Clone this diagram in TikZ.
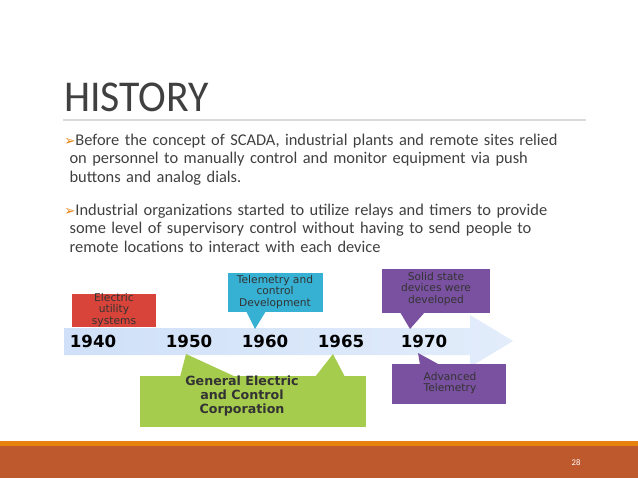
\documentclass[tikz,border=0pt]{standalone}
\usepackage{fontspec}
\setmainfont{Carlito}
\newfontfamily\tl{DejaVu Sans}
\definecolor{brick}{HTML}{BE582D}
\definecolor{orng}{HTML}{E8820E}
\definecolor{txt}{HTML}{404040}
\definecolor{red1}{HTML}{D9443A}
\definecolor{teal1}{HTML}{36B0D3}
\definecolor{purp}{HTML}{7A51A0}
\definecolor{grn}{HTML}{A6CC4E}
\definecolor{arr}{HTML}{CFE0F8}
\newcommand{\bmark}{\textcolor{orng}{{\tl\fontsize{10}{10}\selectfont ➢}}}
\tikzset{
 lbl/.style={font=\tl\fontsize{8}{8.5}\selectfont, align=center, text=black!80},
 yr/.style={font=\tl\bfseries\fontsize{12.5}{12.5}\selectfont, text=black},
 bul/.style={anchor=base west, align=left, text=txt, font=\fontsize{12.3}{14.2}\selectfont, text width=400pt, inner sep=0pt},
}
\begin{document}
\begin{tikzpicture}[x=0.75pt,y=-0.75pt]
\useasboundingbox (0,0) rectangle (638,478);
\fill[white] (0,0) rectangle (638,478);
% footer
\fill[orng] (0,441) rectangle (638,447);
\fill[brick] (0,446) rectangle (638,478);
\node[text=white, font=\fontsize{6.5}{6.5}\selectfont] (pg) at (576,463) {28};
% title
\node[anchor=base west, inner sep=0pt, text=txt, font=\fontsize{33}{33}\selectfont, xscale=0.95] (title) at (64,111) {HISTORY};
\draw[black!15, line width=1pt] (63,120) -- (586,120);
% bullets
\node[bul] (b1) at (64,145) {\bmark Before the concept of SCADA, industrial plants and remote sites relied\\ \hspace*{4pt}on personnel to manually control and monitor equipment via push\\ \hspace*{4pt}buttons and analog dials.};
\node[bul] (b2) at (64,215) {\bmark Industrial organizations started to utilize relays and timers to provide\\ \hspace*{4pt}some level of supervisory control without having to send people to\\ \hspace*{4pt}remote locations to interact with each device};
% timeline arrow
\shade[left color=arr, right color=arr!60] (64,328) -- (470,328) -- (470,315) -- (513,341) -- (470,367) -- (470,355) -- (64,355) -- cycle;
% callouts
\fill[red1] (72,294) rectangle (156,327);
\node[lbl] (c1) at (114,310) {Electric\\utility\\systems};
\fill[teal1] (228,273) rectangle (323,312);
\fill[teal1] (246,311) -- (255,329) -- (266,311) -- cycle;
\node[lbl] (c2) at (275,292) {Telemetry and\\control\\Development};
\fill[purp] (382,269) rectangle (490,313);
\fill[purp] (400,312) -- (410,329) -- (425,312) -- cycle;
\node[lbl] (c3) at (436,289) {Solid state\\devices were\\developed};
\fill[grn] (180,377) -- (186,354) -- (236,377) -- cycle;
\fill[grn] (315,377) -- (333,354) -- (345,377) -- cycle;
\fill[grn] (140,376) rectangle (366,427);
\node[lbl, font=\tl\bfseries\fontsize{9.5}{10.5}\selectfont] (c4) at (242,396) {General Electric\\and Control\\Corporation};
\fill[purp] (420,365) -- (418,353) -- (440,365) -- cycle;
\fill[purp] (392,364) rectangle (506,404);
\node[lbl] (c5) at (450,383) {Advanced\\Telemetry};
% years
\node[yr] (y1) at (93,341) {1940};
\node[yr] (y2) at (189,341) {1950};
\node[yr] (y3) at (265,341) {1960};
\node[yr] (y4) at (341,341) {1965};
\node[yr] (y5) at (424,341) {1970};
\end{tikzpicture}
\end{document}
